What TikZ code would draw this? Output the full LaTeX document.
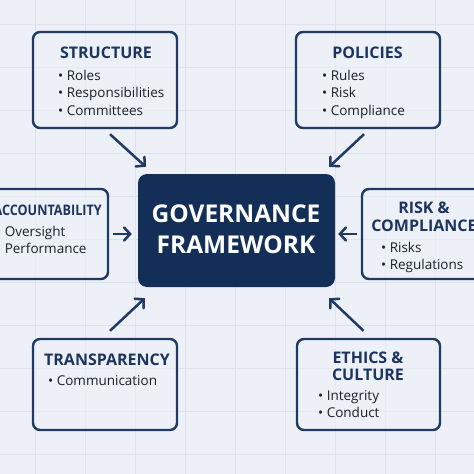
\documentclass[tikz,border=0pt]{standalone}
\usepackage{fontspec}
\setmainfont{Open Sans}
\usepackage{tikz}
\usetikzlibrary{arrows.meta,positioning,calc}

\definecolor{bgblue}{HTML}{EDF1F7}
\definecolor{gridblue}{HTML}{DCE3EE}
\definecolor{navy}{HTML}{132F58}
\definecolor{framenavy}{HTML}{1F3A64}
\definecolor{titlenavy}{HTML}{1C3560}
\definecolor{itemgray}{HTML}{1B1F2A}

\newcommand{\itemlist}[1]{\begin{tabular}[t]{@{}l@{}}#1\end{tabular}}
\newcommand{\titlelist}[1]{\begin{tabular}[t]{@{}c@{}}#1\end{tabular}}

\begin{document}
\begin{tikzpicture}[x=1pt,y=-1pt,
  box/.style={draw=framenavy,line width=2.4pt,rounded corners=7pt,fill=bgblue,fill opacity=0.6,text opacity=1},
  hub/.style={fill=navy,rounded corners=9pt},
  title/.style={text=titlenavy,font=\fontsize{16}{18}\selectfont\bfseries,inner sep=0pt,anchor=base},
  items/.style={text=itemgray,font=\fontsize{13.5}{17.5}\selectfont,inner sep=0pt,anchor=base west},
  conn/.style={draw=framenavy,line width=2.5pt,-{Straight Barb[length=6pt,width=13pt,line cap=round]}}]
  \path[use as bounding box,fill=bgblue] (0,0) rectangle (474,474);
  \clip (0,0) rectangle (474,474);
  \foreach \gx in {35,85,...,435}
    \draw[gridblue,line width=0.6pt] (\gx,0) -- (\gx,474);
  \foreach \gy in {24,67,...,454}
    \draw[gridblue,line width=0.6pt] (0,\gy) -- (474,\gy);

  \node[hub,minimum width=197pt,minimum height=113pt] (gov) at (236.5,230.5) {};
  \node[text=white,font=\fontsize{24.5}{31}\selectfont\bfseries,inner sep=0pt,anchor=base] (govtxt) at (236,222)
    {\titlelist{GOVERNANCE\\FRAMEWORK}};

  \node[box,minimum width=144pt,minimum height=96pt] (struct) at (105,80) {};
  \node[title] (structT) at (106,58) {STRUCTURE};
  \node[items] (structL) at (58,80) {\itemlist{• Roles\\• Responsibilities\\• Committees}};

  \node[box,minimum width=144pt,minimum height=96pt] (policy) at (368,80) {};
  \node[title] (policyT) at (367.5,58) {POLICIES};
  \node[items] (policyL) at (322,80) {\itemlist{• Rules\\• Risk\\• Compliance}};

  \node[box,minimum width=148pt,minimum height=90pt] (account) at (34,234) {};
  \node[title,anchor=base east,font=\fontsize{14.5}{18}\selectfont\bfseries] (accountT) at (102,215)
    {\scalebox{0.87}[1]{ACCOUNTABILITY}};
  \node[items] (accountL) at (-4,236) {\itemlist{• Oversight\\• Performance}};

  \node[box,minimum width=138pt,minimum height=90pt] (risk) at (431,234) {};
  \node[title] (riskT) at (424,213) {\titlelist{RISK \&\\COMPLIANCE}};
  \node[items] (riskL) at (381,252) {\itemlist{• Risks\\• Regulations}};

  \node[box,minimum width=144pt,minimum height=91pt] (transp) at (105,384.5) {};
  \node[title] (transpT) at (107,365) {TRANSPARENCY};
  \node[items] (transpL) at (48,385) {\itemlist{• Communication}};

  \node[box,minimum width=143pt,minimum height=91pt] (ethics) at (368.5,384.5) {};
  \node[title,font=\fontsize{16}{17.5}\selectfont\bfseries] (ethicsT) at (368,363) {\titlelist{ETHICS \&\\CULTURE}};
  \node[items] (ethicsL) at (318,400) {\itemlist{• Integrity\\• Conduct}};

  \draw[conn] ([shift={(5,5)}]struct.south) -- ([shift={(8,-7)}]gov.north west);
  \draw[conn] ([shift={(-4,5)}]policy.south) -- ([shift={(-6,-7)}]gov.north east);
  \draw[conn] ([shift={(4,0)}]account.east) -- ([shift={(-6,3.5)}]gov.west);
  \draw[conn] ([shift={(-4,0)}]risk.west) -- ([shift={(3,3.5)}]gov.east);
  \draw[conn] ([shift={(5,-7)}]transp.north) -- ([shift={(7,11)}]gov.south west);
  \draw[conn] ([shift={(-5,-7)}]ethics.north) -- ([shift={(-6,11)}]gov.south east);
\end{tikzpicture}
\end{document}
